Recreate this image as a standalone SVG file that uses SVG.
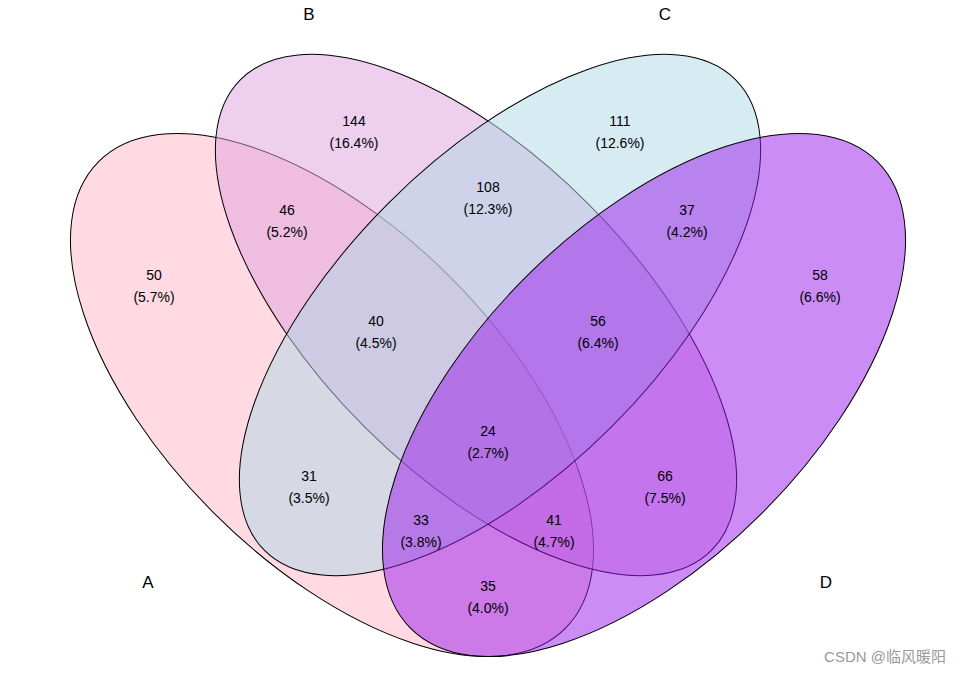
<svg xmlns="http://www.w3.org/2000/svg" width="968" height="674" viewBox="0 0 968 674">
<style>
.e{stroke:#000;stroke-width:1;fill-opacity:0.5}
text{font-family:"Liberation Sans",Arial,sans-serif;font-size:14px;text-anchor:middle;fill:#000}
.s{font-size:17px}
</style>
<rect width="968" height="674" fill="#fff"/>
<g id="sets">
<g id="A"><ellipse class="e" cx="332" cy="395" rx="330" ry="167" transform="rotate(45 332 395)" fill="#FFB5C5"/></g>
<g id="B"><ellipse class="e" cx="476" cy="315" rx="333" ry="158" transform="rotate(45 476 315)" fill="#DDA0DD"/></g>
<g id="C"><ellipse class="e" cx="500" cy="315" rx="333" ry="158" transform="rotate(-45 500 315)" fill="#ADD8E6"/></g>
<g id="D"><ellipse class="e" cx="644" cy="395" rx="330" ry="167" transform="rotate(-45 644 395)" fill="#9A1AEB"/></g>
</g>
<g id="labels">
<text class="s" x="148" y="588">A</text>
<text class="s" x="309" y="20">B</text>
<text class="s" x="665" y="20">C</text>
<text class="s" x="826" y="588">D</text>
<text x="154" y="280">50</text><text x="154" y="302">(5.7%)</text>
<text x="354" y="126">144</text><text x="354" y="148">(16.4%)</text>
<text x="620" y="126">111</text><text x="620" y="148">(12.6%)</text>
<text x="820" y="280">58</text><text x="820" y="302">(6.6%)</text>
<text x="287" y="215">46</text><text x="287" y="237">(5.2%)</text>
<text x="488" y="192">108</text><text x="488" y="214">(12.3%)</text>
<text x="687" y="215">37</text><text x="687" y="237">(4.2%)</text>
<text x="376" y="326">40</text><text x="376" y="348">(4.5%)</text>
<text x="598" y="326">56</text><text x="598" y="348">(6.4%)</text>
<text x="488" y="436">24</text><text x="488" y="458">(2.7%)</text>
<text x="309" y="481">31</text><text x="309" y="503">(3.5%)</text>
<text x="665" y="481">66</text><text x="665" y="503">(7.5%)</text>
<text x="421" y="525">33</text><text x="421" y="547">(3.8%)</text>
<text x="554" y="525">41</text><text x="554" y="547">(4.7%)</text>
<text x="488" y="591">35</text><text x="488" y="613">(4.0%)</text>
</g>
<text x="885" y="662" style="font-family:'Liberation Sans','Noto Sans CJK SC',sans-serif;font-size:15px;fill:#999">CSDN @临风暖阳</text>
</svg>
